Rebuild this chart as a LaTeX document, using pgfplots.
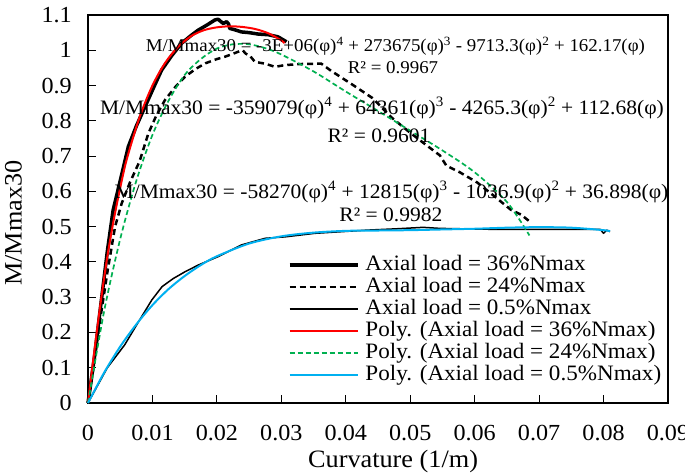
\documentclass[border=0pt]{standalone}
\usepackage{fontspec}
\setmainfont{Liberation Serif}[FakeStretch=1.05]
\usepackage{pgfplots}
\pgfplotsset{compat=1.18}
\definecolor{xlgreen}{RGB}{0,176,80}
\definecolor{xlblue}{RGB}{0,176,240}
\newcommand{\ph}{(φ)}
\begin{document}
\begin{tikzpicture}
\path[use as bounding box] (-88pt,-70pt) rectangle (597pt,403pt);
\begin{axis}[
  at={(0pt,0pt)}, anchor=south west,
  scale only axis, width=580pt, height=388pt,
  xmin=0, xmax=0.09, ymin=0, ymax=1.1,
  scaled x ticks=false, scaled y ticks=false,
  xtick={0,0.01,0.02,0.03,0.04,0.05,0.06,0.07,0.08,0.09},
  xticklabels={0,0.01,0.02,0.03,0.04,0.05,0.06,0.07,0.08,0.09},
  ytick={0,0.1,0.2,0.3,0.4,0.5,0.6,0.7,0.8,0.9,1.0,1.1},
  yticklabels={0,0.1,0.2,0.3,0.4,0.5,0.6,0.7,0.8,0.9,1,1.1},
  tick align=inside, xtick pos=bottom, ytick pos=left,
  major tick length=8pt,
  every tick/.style={black, line width=1pt},
  axis line style={line width=2.5pt},
  ticklabel style={font=\fontsize{23}{24}\selectfont},
  xticklabel style={anchor=north, inner sep=0pt, yshift=-22pt},
  yticklabel style={anchor=east, inner sep=0pt, xshift=-16pt},
  xlabel={Curvature (1/m)}, ylabel={M/Mmax30},
  every axis x label/.style={at={(axis description cs:0.526,-0.165)}, anchor=base, font=\fontsize{25}{25}\selectfont},
  every axis y label/.style={at={(axis description cs:-0.1143,0.464)}, anchor=base, rotate=90, font=\fontsize{25}{25}\selectfont},
  clip=false,
  legend cell align=left,
  legend image code/.code={\draw[#1] (0pt,0pt) -- (68pt,0pt);},
  legend style={at={(axis description cs:0.3448,0.384)}, anchor=north west,
    draw=none, fill=none, inner sep=0pt, outer sep=0pt, column sep=5pt, row sep=0pt,
    font=\fontsize{22}{22}\selectfont,
    nodes={inner sep=1pt, text height=15pt, text depth=5pt}},
]
% Axial load = 36%Nmax
\addplot[black, line width=3.5pt, line join=round] coordinates {
(0,0) (0.001,0.13) (0.002,0.28) (0.003,0.43) (0.0039,0.547) (0.005,0.63)
(0.00626,0.727) (0.0075,0.785) (0.00885,0.84) (0.0102,0.895) (0.01143,0.944)
(0.013,0.985) (0.01454,1.02) (0.016,1.042) (0.0171,1.057) (0.0185,1.072)
(0.0197,1.086) (0.0202,1.088) (0.0207,1.080) (0.021,1.076) (0.0215,1.081)
(0.0218,1.075) (0.022,1.062) (0.0228,1.058) (0.0238,1.052) (0.025,1.050)
(0.0264,1.046) (0.028,1.044) (0.0295,1.038) (0.0308,1.024)
};
\addlegendentry{Axial load = 36\%Nmax}
% Axial load = 24%Nmax
\addplot[black, line width=2.5pt, dash pattern=on 6pt off 4pt] coordinates {
(0,0) (0.001,0.12) (0.002,0.25) (0.003,0.37) (0.0042,0.5) (0.00523,0.566)
(0.0065,0.625) (0.008,0.685) (0.00936,0.764) (0.0106,0.815) (0.01195,0.859)
(0.0135,0.895) (0.01505,0.925) (0.0167,0.947) (0.0182,0.963) (0.020,0.975)
(0.0213,0.982) (0.0225,0.99) (0.0236,0.998) (0.024,1.0) (0.0245,0.99)
(0.0251,0.985) (0.0259,0.967) (0.0275,0.962) (0.029,0.953) (0.0306,0.958)
(0.033,0.961) (0.0362,0.962) (0.0377,0.942) (0.0409,0.904) (0.0441,0.865)
(0.0472,0.808) (0.0498,0.769) (0.0525,0.731) (0.0546,0.702) (0.0556,0.673)
(0.0577,0.654) (0.0604,0.625) (0.063,0.587) (0.0656,0.548) (0.0672,0.534)
(0.0685,0.515)
};
\addlegendentry{Axial load = 24\%Nmax}
% Axial load = 0.5%Nmax
\addplot[black, line width=1.5pt, line join=round] coordinates {
(0,0) (0.0015,0.05) (0.003,0.1) (0.0057,0.165) (0.008,0.235) (0.0099,0.292)
(0.0115,0.33) (0.01324,0.353) (0.01505,0.372) (0.0171,0.391) (0.0202,0.415)
(0.0238,0.448) (0.0275,0.467) (0.0306,0.471) (0.0329,0.476) (0.0352,0.481)
(0.0432,0.49) (0.048,0.494) (0.052,0.498) (0.0546,0.495) (0.0639,0.492)
(0.0691,0.492) (0.0795,0.492) (0.0800,0.481) (0.0805,0.49) (0.081,0.486)
};
\addlegendentry{Axial load = 0.5\%Nmax}
% Poly 36%
\addplot[red, line width=2pt, smooth] coordinates {
(0,0) (0.001,0.15) (0.002,0.29) (0.003,0.415) (0.004,0.52) (0.005,0.61)
(0.006,0.69) (0.008,0.81) (0.010,0.90) (0.012,0.965) (0.014,1.01)
(0.016,1.04) (0.018,1.057) (0.020,1.065) (0.022,1.068) (0.024,1.066)
(0.026,1.06) (0.028,1.048) (0.030,1.028) (0.0305,1.02)
};
\addlegendentry{Poly. (Axial load = 36\%Nmax)}
% Poly 24%
\addplot[xlgreen, line width=1.7pt, dash pattern=on 5pt off 3pt, smooth] coordinates {
(0,0) (0.0025,0.26) (0.005,0.465) (0.0075,0.63) (0.01,0.76) (0.0125,0.857)
(0.015,0.93) (0.0175,0.975) (0.02,1.005) (0.0225,1.017) (0.025,1.017)
(0.0275,1.006) (0.03,0.988) (0.035,0.94) (0.04,0.883) (0.045,0.828)
(0.05,0.772) (0.055,0.716) (0.06,0.654) (0.065,0.57) (0.0685,0.475)
};
\addlegendentry{Poly. (Axial load = 24\%Nmax)}
% Poly 0.5%
\addplot[xlblue, line width=2pt, smooth] coordinates {
(0,0) (0.0025,0.086) (0.005,0.16) (0.0075,0.223) (0.01,0.2775) (0.0125,0.323)
(0.015,0.36) (0.0175,0.391) (0.02,0.416) (0.025,0.452) (0.03,0.4725)
(0.035,0.483) (0.04,0.488) (0.045,0.489) (0.05,0.490) (0.055,0.492)
(0.06,0.494) (0.065,0.497) (0.07,0.4985) (0.075,0.497) (0.08,0.490) (0.081,0.487)
};
\addlegendentry{Poly. (Axial load = 0.5\%Nmax)}
% equations
\begin{scope}[every node/.style={font=\fontsize{20.5}{22}\selectfont, inner sep=0pt}]
\node[font=\fontsize{18}{20}\selectfont] at (axis cs:0.0477,1.012) {M/Mmax30 = -3E+06\ph\textsuperscript{4} + 273675\ph\textsuperscript{3} - 9713.3\ph\textsuperscript{2} + 162.17\ph};
\node[font=\fontsize{18}{20}\selectfont] at (axis cs:0.04733,0.952) {R² = 0.9967};
\node at (axis cs:0.04562,0.836) {M/Mmax30 = -359079\ph\textsuperscript{4} + 64361\ph\textsuperscript{3} - 4265.3\ph\textsuperscript{2} + 112.68\ph};
\node at (axis cs:0.04516,0.758) {R² = 0.9601};
\node at (axis cs:0.0471,0.599) {M/Mmax30 = -58270\ph\textsuperscript{4} + 12815\ph\textsuperscript{3} - 1036.9\ph\textsuperscript{2} + 36.898\ph};
\node at (axis cs:0.0470,0.533) {R² = 0.9982};
\end{scope}
\end{axis}
\end{tikzpicture}
\end{document}
